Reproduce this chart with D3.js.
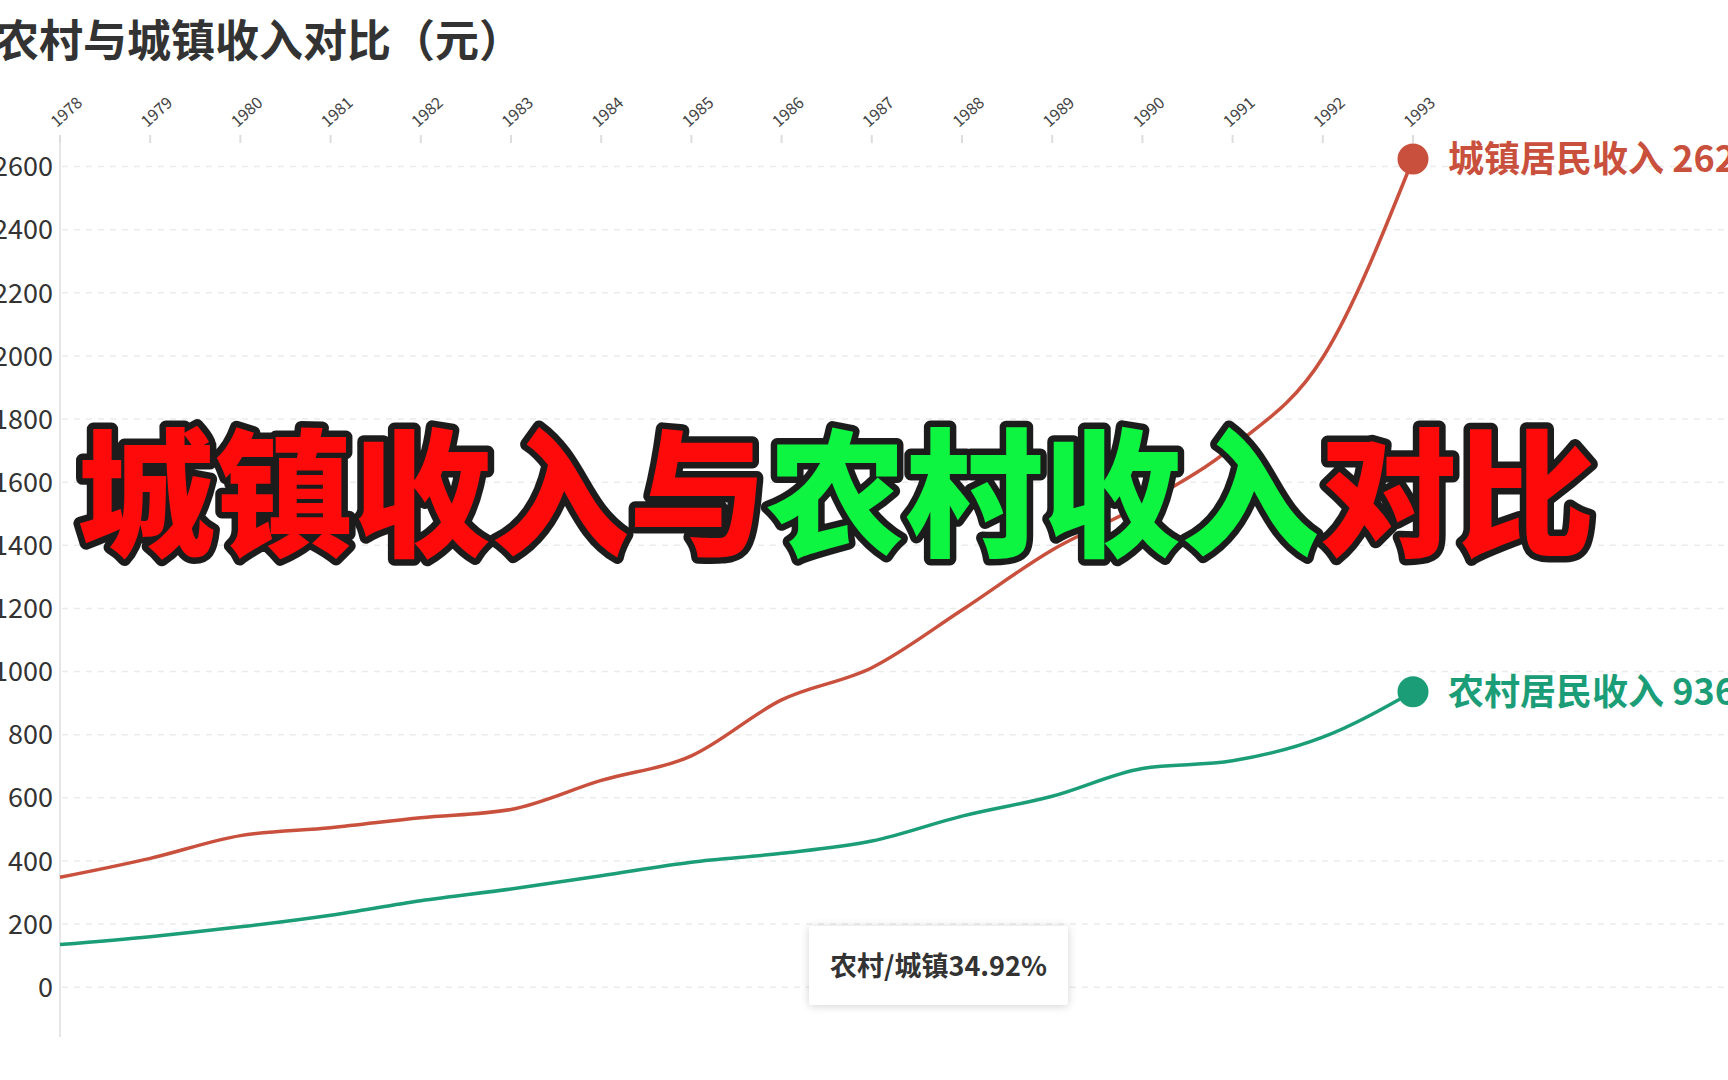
<!DOCTYPE html>
<html>
<head>
<meta charset="utf-8">
<script src="https://cdn.jsdelivr.net/npm/d3@7"></script>
<style>
  body { margin: 0; background: #fff; overflow: hidden; }
  text { font-family: "Noto Sans CJK SC", "Noto Sans", sans-serif; }
</style>
</head>
<body>
<script>
// years along the top axis
var years = [1978, 1979, 1980, 1981, 1982, 1983, 1984, 1985, 1986, 1987, 1988, 1989, 1990, 1991, 1992, 1993];
// income per person, yuan
var urbanIncome = [348, 408, 480, 505, 537, 563, 655, 733, 910, 1012, 1195, 1385, 1530, 1712, 1995, 2624];
var ruralIncome = [135, 160, 191, 228, 274, 311, 353, 396, 424, 463, 542, 605, 693, 717, 792, 936];
var yTicks = [0, 200, 400, 600, 800, 1000, 1200, 1400, 1600, 1800, 2000, 2200, 2400, 2600];
var seriesNames = ["城镇居民收入", "农村居民收入"];
var seriesColors = ["#c9503d", "#1b9e77"];
var ratioText = "农村/城镇34.92%";
var chartTitle = "农村与城镇收入对比（元）";
// big overlay caption, split by colour
var bannerParts = ["城镇收入与", "农村收入", "对比"];
var bannerColors = ["#ff0a0a", "#0df541", "#ff0a0a"];

window.onload = function(){
    var width = 1728, height = 1080;

    var svg = d3.select("body")
      .append("svg")
        .attr("width", width)
        .attr("height", height)

    var defs = svg.append("defs")
    defs.append("filter")
        .attr("id", "shadow")
        .attr("x", "-20%").attr("y", "-40%")
        .attr("width", "140%").attr("height", "180%")
      .append("feDropShadow")
        .attr("dx", 0).attr("dy", 1)
        .attr("stdDeviation", 4)
        .attr("flood-color", "#000")
        .attr("flood-opacity", 0.18)

    var x = d3.scaleLinear()
      .domain([1978, 1993])
      .range([60, 1413]);

    //axis runs a bit below zero like the original
    var y = d3.scaleLinear()
      .domain([-158, 2700])
      .range([1037, 135]);

    //title
    svg.append("text")
      .attr("x", -5)
      .attr("y", 57)
      .attr("font-size", 44)
      .attr("font-weight", 700)
      .attr("fill", "#333")
      .text(chartTitle)

    //dashed grid lines
    svg.selectAll(".grid")
      .data(yTicks)
      .enter()
      .append("line")
      .attr("class", "grid")
      .attr("x1", 62)
      .attr("x2", width)
      .attr("y1", function(d){ return y(d); })
      .attr("y2", function(d){ return y(d); })
      .attr("stroke", "#ebebeb")
      .attr("stroke-width", 1.5)
      .attr("stroke-dasharray", "6,6")

    //left axis line
    svg.append("line")
      .attr("x1", x(1978)).attr("x2", x(1978))
      .attr("y1", y(2700)).attr("y2", y(-158))
      .attr("stroke", "#e6e6e6")
      .attr("stroke-width", 2)

    //y tick labels
    svg.selectAll(".ylab")
      .data(yTicks)
      .enter()
      .append("text")
      .attr("class", "ylab")
      .attr("x", 53)
      .attr("y", function(d){ return y(d); })
      .attr("dy", "0.36em")
      .attr("text-anchor", "end")
      .attr("font-size", 27)
      .attr("fill", "#333")
      .text(function(d){ return d; })

    //top x axis, ticks plus rotated year labels
    var xAxis = svg.append("g")
    xAxis.selectAll(".xtick")
      .data(years)
      .enter()
      .append("line")
      .attr("class", "xtick")
      .attr("x1", function(d){ return x(d); })
      .attr("x2", function(d){ return x(d); })
      .attr("y1", 135)
      .attr("y2", 143)
      .attr("stroke", "#dddddd")
      .attr("stroke-width", 2)
    xAxis.selectAll(".xlab")
      .data(years)
      .enter()
      .append("text")
      .attr("class", "xlab")
      .attr("transform", function(d){ return "translate(" + (x(d) - 3) + ",128) rotate(-42)"; })
      .attr("font-size", 16)
      .attr("fill", "#444")
      .text(function(d){ return d; })

    var line = d3.line()
      .x(function(d, i){ return x(years[i]); })
      .y(function(d){ return y(d); })
      .curve(d3.curveMonotoneX);

    var series = [urbanIncome, ruralIncome];

    svg.selectAll(".series")
      .data(series)
      .enter()
      .append("path")
      .attr("class", "series")
      .attr("d", line)
      .attr("fill", "none")
      .attr("stroke", function(d, i){ return seriesColors[i]; })
      .attr("stroke-width", 3.5)

    //end dots
    svg.selectAll(".dot")
      .data(series)
      .enter()
      .append("circle")
      .attr("class", "dot")
      .attr("cx", x(years[years.length - 1]))
      .attr("cy", function(d){ return y(d[d.length - 1]); })
      .attr("r", 15.5)
      .attr("fill", function(d, i){ return seriesColors[i]; })

    //end labels
    svg.selectAll(".endlab")
      .data(series)
      .enter()
      .append("text")
      .attr("class", "endlab")
      .attr("x", x(years[years.length - 1]) + 35)
      .attr("y", function(d){ return y(d[d.length - 1]); })
      .attr("dy", "0.36em")
      .attr("font-size", 36)
      .attr("font-weight", 700)
      .attr("fill", function(d, i){ return seriesColors[i]; })
      .text(function(d, i){ return seriesNames[i] + " " + d[d.length - 1]; })

    //ratio box near the bottom
    var box = svg.append("g")
    box.append("rect")
      .attr("x", 809).attr("y", 926)
      .attr("width", 259).attr("height", 79)
      .attr("rx", 3)
      .attr("fill", "#fff")
      .attr("filter", "url(#shadow)")
    box.append("text")
      .attr("x", 938.5)
      .attr("y", 966)
      .attr("dy", "0.36em")
      .attr("text-anchor", "middle")
      .attr("font-size", 27)
      .attr("font-weight", 700)
      .attr("fill", "#333")
      .text(ratioText)

    //big outlined caption across the chart
    var banner = svg.append("text")
      .attr("x", 77)
      .attr("y", 545)
      .attr("font-size", 138)
      .attr("font-weight", 900)
      .attr("stroke", "#1c1c1c")
      .attr("stroke-width", 13)
      .attr("stroke-linejoin", "round")
      .attr("paint-order", "stroke")
    banner.selectAll("tspan")
      .data(bannerParts)
      .enter()
      .append("tspan")
      .attr("fill", function(d, i){ return bannerColors[i]; })
      .text(function(d){ return d; })
};
</script>
</body>
</html>
